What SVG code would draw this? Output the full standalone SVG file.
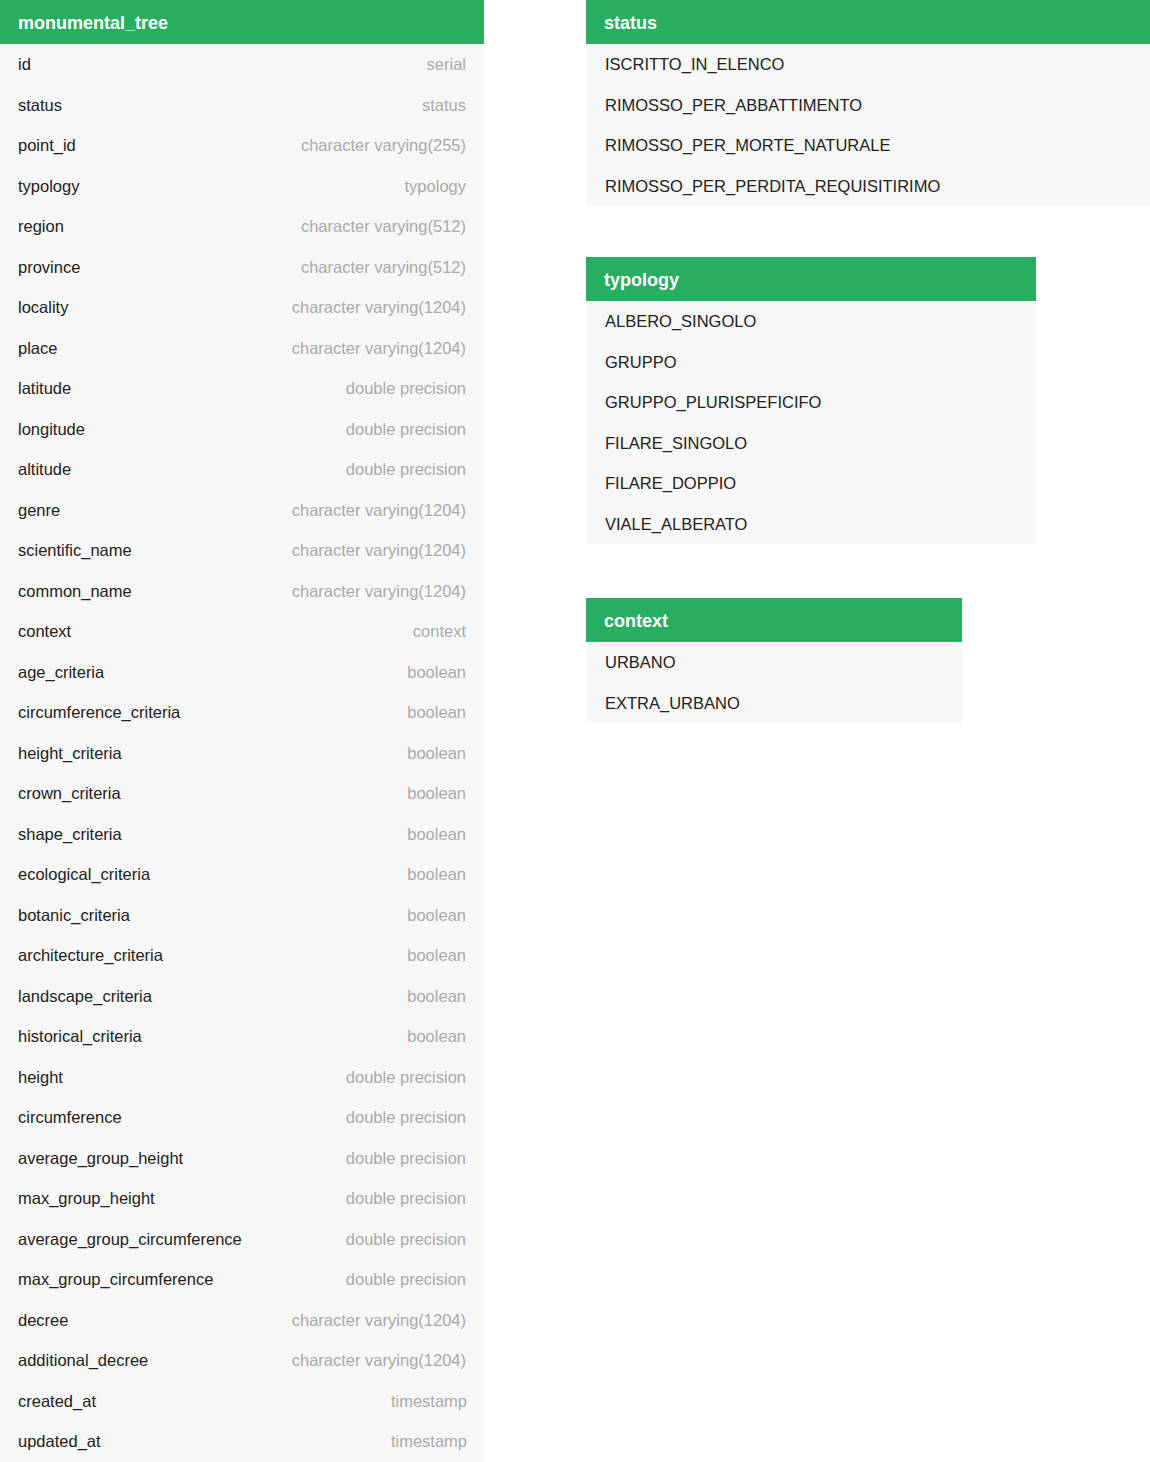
<svg xmlns="http://www.w3.org/2000/svg" width="1150" height="1462" viewBox="0 0 1150 1462">
<style>
.hdr{fill:#27ae60}
.body{fill:#f7f7f7}
.ht{font-family:"Liberation Sans",Arial,sans-serif;font-weight:bold;font-size:18px;fill:#ffffff}
.nm{font-family:"Liberation Sans",Arial,sans-serif;font-size:16.5px;fill:#222222}
.tp{font-family:"Liberation Sans",Arial,sans-serif;font-size:16.5px;fill:#aaaaaa;text-anchor:end}
</style>
<rect width="1150" height="1462" fill="#ffffff"/>
<g id="monumental_tree">
<rect class="body" x="0" y="44" width="484" height="1418"/>
<rect class="hdr" x="0" y="0" width="484" height="44"/>
<text class="ht" x="18" y="28.5">monumental_tree</text>
<text class="nm" x="18" y="70">id</text><text class="tp" x="466" y="70">serial</text>
<text class="nm" x="18" y="110.5">status</text><text class="tp" x="466" y="110.5">status</text>
<text class="nm" x="18" y="151">point_id</text><text class="tp" x="466" y="151">character varying(255)</text>
<text class="nm" x="18" y="191.5">typology</text><text class="tp" x="466" y="191.5">typology</text>
<text class="nm" x="18" y="232">region</text><text class="tp" x="466" y="232">character varying(512)</text>
<text class="nm" x="18" y="272.5">province</text><text class="tp" x="466" y="272.5">character varying(512)</text>
<text class="nm" x="18" y="313">locality</text><text class="tp" x="466" y="313">character varying(1204)</text>
<text class="nm" x="18" y="353.5">place</text><text class="tp" x="466" y="353.5">character varying(1204)</text>
<text class="nm" x="18" y="394">latitude</text><text class="tp" x="466" y="394">double precision</text>
<text class="nm" x="18" y="434.5">longitude</text><text class="tp" x="466" y="434.5">double precision</text>
<text class="nm" x="18" y="475">altitude</text><text class="tp" x="466" y="475">double precision</text>
<text class="nm" x="18" y="515.5">genre</text><text class="tp" x="466" y="515.5">character varying(1204)</text>
<text class="nm" x="18" y="556">scientific_name</text><text class="tp" x="466" y="556">character varying(1204)</text>
<text class="nm" x="18" y="596.5">common_name</text><text class="tp" x="466" y="596.5">character varying(1204)</text>
<text class="nm" x="18" y="637">context</text><text class="tp" x="466" y="637">context</text>
<text class="nm" x="18" y="677.5">age_criteria</text><text class="tp" x="466" y="677.5">boolean</text>
<text class="nm" x="18" y="718">circumference_criteria</text><text class="tp" x="466" y="718">boolean</text>
<text class="nm" x="18" y="758.5">height_criteria</text><text class="tp" x="466" y="758.5">boolean</text>
<text class="nm" x="18" y="799">crown_criteria</text><text class="tp" x="466" y="799">boolean</text>
<text class="nm" x="18" y="839.5">shape_criteria</text><text class="tp" x="466" y="839.5">boolean</text>
<text class="nm" x="18" y="880">ecological_criteria</text><text class="tp" x="466" y="880">boolean</text>
<text class="nm" x="18" y="920.5">botanic_criteria</text><text class="tp" x="466" y="920.5">boolean</text>
<text class="nm" x="18" y="961">architecture_criteria</text><text class="tp" x="466" y="961">boolean</text>
<text class="nm" x="18" y="1001.5">landscape_criteria</text><text class="tp" x="466" y="1001.5">boolean</text>
<text class="nm" x="18" y="1042">historical_criteria</text><text class="tp" x="466" y="1042">boolean</text>
<text class="nm" x="18" y="1082.5">height</text><text class="tp" x="466" y="1082.5">double precision</text>
<text class="nm" x="18" y="1123">circumference</text><text class="tp" x="466" y="1123">double precision</text>
<text class="nm" x="18" y="1163.5">average_group_height</text><text class="tp" x="466" y="1163.5">double precision</text>
<text class="nm" x="18" y="1204">max_group_height</text><text class="tp" x="466" y="1204">double precision</text>
<text class="nm" x="18" y="1244.5">average_group_circumference</text><text class="tp" x="466" y="1244.5">double precision</text>
<text class="nm" x="18" y="1285">max_group_circumference</text><text class="tp" x="466" y="1285">double precision</text>
<text class="nm" x="18" y="1325.5">decree</text><text class="tp" x="466" y="1325.5">character varying(1204)</text>
<text class="nm" x="18" y="1366">additional_decree</text><text class="tp" x="466" y="1366">character varying(1204)</text>
<text class="nm" x="18" y="1406.5">created_at</text><text class="tp" x="467" y="1406.5">timestamp</text>
<text class="nm" x="18" y="1447">updated_at</text><text class="tp" x="467" y="1447">timestamp</text>
</g>
<g id="status">
<rect class="body" x="586" y="44" width="564" height="162"/>
<rect class="hdr" x="586" y="0" width="564" height="44"/>
<text class="ht" x="604" y="28.5">status</text>
<text class="nm" x="605" y="70">ISCRITTO_IN_ELENCO</text>
<text class="nm" x="605" y="110.5">RIMOSSO_PER_ABBATTIMENTO</text>
<text class="nm" x="605" y="151">RIMOSSO_PER_MORTE_NATURALE</text>
<text class="nm" x="605" y="191.5">RIMOSSO_PER_PERDITA_REQUISITIRIMO</text>
</g>
<g id="typology">
<rect class="body" x="586" y="301" width="450" height="243"/>
<rect class="hdr" x="586" y="257" width="450" height="44"/>
<text class="ht" x="604" y="285.5">typology</text>
<text class="nm" x="605" y="327">ALBERO_SINGOLO</text>
<text class="nm" x="605" y="367.5">GRUPPO</text>
<text class="nm" x="605" y="408">GRUPPO_PLURISPEFICIFO</text>
<text class="nm" x="605" y="448.5">FILARE_SINGOLO</text>
<text class="nm" x="605" y="489">FILARE_DOPPIO</text>
<text class="nm" x="605" y="529.5">VIALE_ALBERATO</text>
</g>
<g id="context">
<rect class="body" x="586" y="642" width="376" height="81"/>
<rect class="hdr" x="586" y="598" width="376" height="44"/>
<text class="ht" x="604" y="626.5">context</text>
<text class="nm" x="605" y="668">URBANO</text>
<text class="nm" x="605" y="708.5">EXTRA_URBANO</text>
</g>
<g id="connectors"/>
</svg>
